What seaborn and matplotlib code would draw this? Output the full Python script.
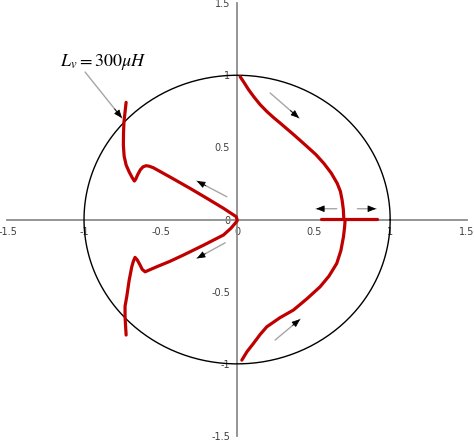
import numpy as np
import pandas as pd
import matplotlib
matplotlib.use("Agg")
import matplotlib.pyplot as plt
import seaborn as sns

# ---- data ----
ur_x = [0.020, 0.045, 0.075, 0.109, 0.150, 0.196, 0.240, 0.283, 0.370, 0.458, 0.515, 0.567, 0.615, 0.654, 0.675, 0.686, 0.694, 0.697, 0.700]
ur_y = [0.990, 0.950, 0.900, 0.851, 0.797, 0.747, 0.705, 0.667, 0.588, 0.505, 0.450, 0.389, 0.322, 0.251, 0.195, 0.135, 0.070, 0.010, 0.000]

lr_x = [0.031, 0.065, 0.107, 0.150, 0.194, 0.280, 0.368, 0.455, 0.542, 0.600, 0.651, 0.678, 0.695, 0.702, 0.706]
lr_y = [-0.974, -0.915, -0.858, -0.797, -0.743, -0.680, -0.627, -0.550, -0.466, -0.392, -0.304, -0.215, -0.119, -0.055, 0.000]

real_x = [0.548, 0.914]
real_y = [0.003, 0.003]

ul_x = [0.000, -0.006, -0.089, -0.200, -0.307, -0.430, -0.547, -0.575, -0.595, -0.615, -0.632, -0.650, -0.662, -0.671, -0.685, -0.705, -0.725, -0.738, -0.743, -0.742, -0.739, -0.725]
ul_y = [0.000, 0.020, 0.078, 0.149, 0.216, 0.290, 0.359, 0.370, 0.373, 0.365, 0.345, 0.310, 0.280, 0.267, 0.290, 0.330, 0.378, 0.440, 0.516, 0.600, 0.678, 0.812]

ll_x = [0.000, -0.040, -0.089, -0.220, -0.351, -0.440, -0.525, -0.575, -0.601, -0.620, -0.634, -0.652, -0.667, -0.678, -0.688, -0.705, -0.721, -0.732, -0.732, -0.725]
ll_y = [-0.010, -0.060, -0.107, -0.178, -0.246, -0.290, -0.327, -0.350, -0.362, -0.345, -0.315, -0.280, -0.262, -0.290, -0.327, -0.420, -0.535, -0.600, -0.673, -0.800]

# direction arrows: (tail_x, tail_y, head_x, head_y)
arrows = [
    (-0.067, 0.158, -0.263, 0.267),
    (-0.078, -0.161, -0.263, -0.269),
    (0.216, 0.877, 0.405, 0.703),
    (0.248, -0.835, 0.412, -0.690),
    (0.651, 0.075, 0.516, 0.075),
    (0.786, 0.075, 0.908, 0.075),
]

ticks = [-1.5, -1, -0.5, 0, 0.5, 1, 1.5]
tick_labels = ["-1.5", "-1", "-0.5", "0", "0.5", "1", "1.5"]

label_text = r"$L_v = 300\mu H$"
label_pos = (-0.876, 1.09)
label_arrow_tail = (-0.993, 1.022)
label_arrow_head = (-0.752, 0.703)

# ---- figure ----
sns.set_style("white")
plt.rcParams["mathtext.fontset"] = "stix"
plt.rcParams["font.family"] = ["DejaVu Sans"]

fig = plt.figure(figsize=(4.74, 4.40), dpi=100)
ax = fig.add_axes([0.0158, 0.009, 0.9688, 0.984])

# unit circle
theta = np.linspace(0, 2 * np.pi, 400)
circ = pd.DataFrame({"x": np.cos(theta), "y": np.sin(theta)})
sns.lineplot(data=circ, x="x", y="y", sort=False, estimator=None, color="black", lw=1.0, ax=ax, zorder=2)

red = "#c00000"
for xs, ys in [(ur_x, ur_y), (lr_x, lr_y), (real_x, real_y), (ul_x, ul_y), (ll_x, ll_y)]:
    df = pd.DataFrame({"x": xs, "y": ys})
    sns.lineplot(data=df, x="x", y="y", sort=False, estimator=None, color=red, lw=2.3, ax=ax, zorder=4,
                 solid_capstyle="round", solid_joinstyle="round")

for tx, ty, hx, hy in arrows:
    ax.annotate("", xy=(hx, hy), xytext=(tx, ty),
                arrowprops=dict(arrowstyle="-", color="#a6a6a6", lw=1.0, shrinkA=0, shrinkB=0), zorder=5)
    ax.annotate("", xy=(hx, hy), xytext=(hx - (hx - tx) * 0.3, hy - (hy - ty) * 0.3),
                arrowprops=dict(arrowstyle="-|>,head_length=0.5,head_width=0.2", color="black",
                                lw=0.6, shrinkA=0, shrinkB=0), zorder=6)

# label annotation
ax.annotate("", xy=label_arrow_head, xytext=label_arrow_tail,
            arrowprops=dict(arrowstyle="-", color="#a6a6a6", lw=1.0, shrinkA=0, shrinkB=0), zorder=5)
hx, hy = label_arrow_head
tx, ty = label_arrow_tail
ax.annotate("", xy=label_arrow_head, xytext=(hx - (hx - tx) * 0.2, hy - (hy - ty) * 0.2),
            arrowprops=dict(arrowstyle="-|>,head_length=0.5,head_width=0.2", color="black",
                            lw=0.6, shrinkA=0, shrinkB=0), zorder=6)
ax.text(label_pos[0], label_pos[1], label_text, fontsize=13, ha="center", va="center", color="black")

ax.set_xlim(-1.5, 1.5)
ax.set_ylim(-1.5, 1.5)
ax.set_xticks(ticks)
ax.set_xticklabels(tick_labels)
ax.set_yticks(ticks)
ax.set_yticklabels(tick_labels)
ax.set_xlabel("")
ax.set_ylabel("")

for s in ["top", "right"]:
    ax.spines[s].set_visible(False)
for s in ["left", "bottom"]:
    ax.spines[s].set_position(("data", 0))
    ax.spines[s].set_color("#8c8c8c")
    ax.spines[s].set_linewidth(1.3)
    ax.spines[s].set_zorder(1)

ax.tick_params(axis="x", direction="in", length=3, width=1, color="#8c8c8c",
               labelsize=7, labelcolor="#404040", pad=5)
ax.tick_params(axis="y", direction="out", length=3, width=1, color="#8c8c8c",
               labelsize=7, labelcolor="#404040", pad=2)
ax.patch.set_alpha(0)

fig.savefig("out.png", dpi=100)
